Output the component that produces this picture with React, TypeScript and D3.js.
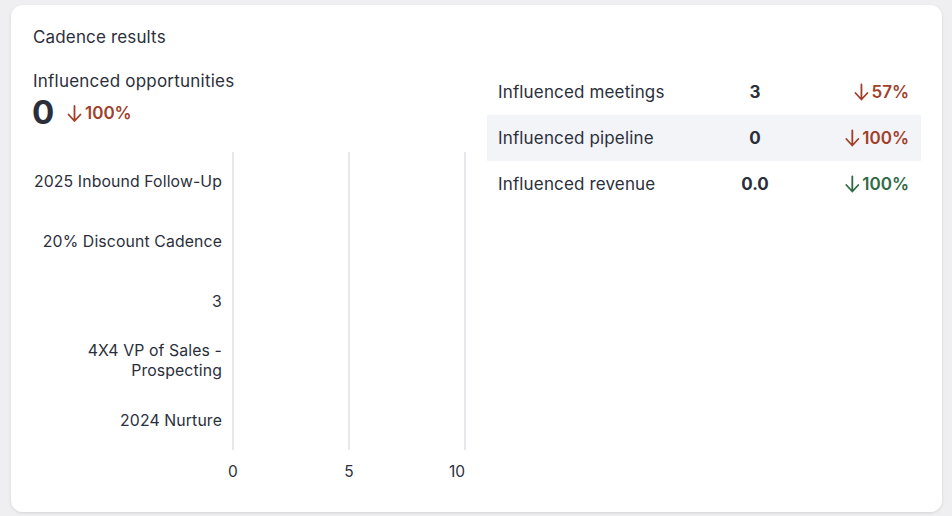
import React from 'react';
import * as d3 from 'd3';

const cadences = ['2025 Inbound Follow-Up', '20% Discount Cadence', '3', '4X4 VP of Sales - Prospecting', '2024 Nurture'];
const opportunities = [0, 0, 0, 0, 0];
const xTicks = [0, 5, 10];

const metricNames = ['Influenced meetings', 'Influenced pipeline', 'Influenced revenue'];
const metricValues = ['3', '0', '0.0'];
const metricChanges = ['57%', '100%', '100%'];
const metricGood = [false, false, true];

const W = 952;
const H = 516;
const FONT = 'Inter, "Noto Sans", sans-serif';
const TEXT = '#2b2f3c';
const RED = '#a13f2b';
const GREEN = '#2f6a45';

// split long labels the way the chart wraps them
const wrap = (s: string) => (s.length > 24 ? [s.slice(0, s.lastIndexOf(' ')), s.slice(s.lastIndexOf(' ') + 1)] : [s]);

let ctx: CanvasRenderingContext2D | null = null;
const measure = (s: string, font: string) => {
  if (!ctx) ctx = document.createElement('canvas').getContext('2d');
  ctx!.font = font;
  return ctx!.measureText(s).width;
};

// thin down arrow icon, centred on cx, top at y
const Arrow = ({ cx, y, color }: { cx: number; y: number; color: string }) => (
  <path d={`M${cx},${y} V${y + 15} M${cx - 6},${y + 8.5} L${cx},${y + 15} L${cx + 6},${y + 8.5}`}
    fill="none" stroke={color} strokeWidth={1.8} strokeLinecap="round" strokeLinejoin="round" />
);

const App = () => {
  const x = d3.scaleLinear().domain([0, 10]).range([233, 465]);
  const y = d3.scaleBand().domain(cadences).range([152, 450]).paddingInner(0.3).paddingOuter(0.15);

  const rowY = d3.scaleBand().domain(metricNames).range([69, 207]);
  const changeFont = `600 17px ${FONT}`;

  return (
    <svg width={W} height={H} style={{ position: 'fixed', left: 0, top: 0, background: '#efeff1' }} fontFamily={FONT}>
      <defs>
        <filter id="sh" x="-5%" y="-5%" width="110%" height="110%">
          <feDropShadow dx="0" dy="1" stdDeviation="1.5" floodColor="#000" floodOpacity="0.12" />
        </filter>
      </defs>
      <rect x={11} y={5} width={931} height={507} rx={12} fill="#fff" filter="url(#sh)" />

      <text x={33} y={43} fontSize={17} letterSpacing={0.15} fill={TEXT}>Cadence results</text>
      <text x={33} y={87} fontSize={17} letterSpacing={0.22} fill={TEXT}>Influenced opportunities</text>
      <text x={32} y={124} fontSize={33} fontWeight={700} fill={TEXT}>{d3.sum(opportunities)}</text>
      <Arrow cx={74.5} y={106} color={RED} />
      <text x={85} y={119} fontSize={17} fontWeight={600} fill={RED}>100%</text>

      {/* grid */}
      {xTicks.map((t, i) => (
        <g key={t}>
          <line x1={x(t)} x2={x(t)} y1={152} y2={450} stroke="#d9dbe1" strokeWidth={1.2} />
          <text x={x(t)} y={477} fontSize={15.5}
            textAnchor={i === xTicks.length - 1 ? 'end' : 'middle'} fill={TEXT}>{t}</text>
        </g>
      ))}

      {/* category labels + bars */}
      {cadences.map((c, i) => {
        const cy = (y(c) as number) + y.bandwidth() / 2;
        const lines = wrap(c);
        return (
          <g key={c}>
            <rect x={x(0)} y={y(c)} width={x(opportunities[i]) - x(0)} height={y.bandwidth()} fill="#5b6fd6" />
            {lines.map((l, j) => (
              <text key={j} x={222} y={cy + (j - (lines.length - 1) / 2) * 20} dy="0.35em" fontSize={15.8}
                letterSpacing={0.12} textAnchor="end" fill={TEXT}>
                {l}
              </text>
            ))}
          </g>
        );
      })}

      {/* metrics table */}
      {metricNames.map((m, i) => {
        const ry = rowY(m) as number;
        const cy = ry + rowY.bandwidth() / 2;
        const col = metricGood[i] ? GREEN : RED;
        const tw = measure(metricChanges[i], changeFont);
        return (
          <g key={m}>
            {i === 1 && <rect x={487} y={ry} width={434} height={rowY.bandwidth()} fill="#f3f4f7" />}
            <text x={498} y={cy} dy="0.35em" fontSize={17} letterSpacing={0.15} fill={TEXT}>{m}</text>
            <text x={755} y={cy} dy="0.35em" fontSize={17} fontWeight={700} textAnchor="middle" fill={TEXT}>{metricValues[i]}</text>
            <Arrow cx={909 - tw - 10} y={cy - 7.5} color={col} />
            <text x={909} y={cy} dy="0.35em" fontSize={17} fontWeight={600} textAnchor="end" fill={col}>{metricChanges[i]}</text>
          </g>
        );
      })}
    </svg>
  );
};

export default App;
